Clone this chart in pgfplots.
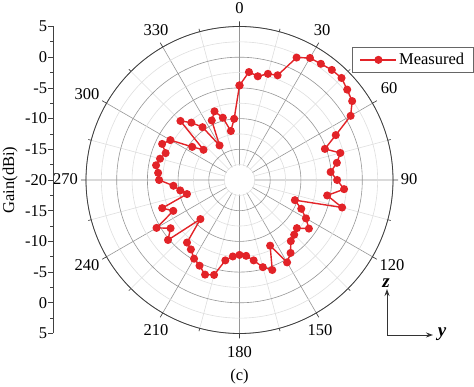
\documentclass[border=0pt]{standalone}
\usepackage{fontspec}
\setmainfont{Liberation Serif}
\usepackage{pgfplots}
\usepgfplotslibrary{polar}
\usetikzlibrary{arrows.meta}
\pgfplotsset{compat=1.18}
\usepackage{pgfplotstable}
\definecolor{meas}{RGB}{226,35,40}
\definecolor{majg}{RGB}{150,150,150}
\definecolor{ming}{RGB}{222,222,222}
\pgfplotstableread{
a g
0 -4.6
5 -2.35
10 -2.85
15 -2.1
20 -1.85
25 2.0
30 2.95
35 3.1
40 3.4
45 3.5
50 2.9
55 2.4
60 0.9
65 -2.7
70 -5.2
75 -3.0
80 -3.9
85 -5.1
90 -4.1
95 -2.9
100 -5.5
105 -2.7
110 -10.4
115 -8.9
120 -7.5
125 -6.2
130 -7.8
135 -7.4
140 -7.0
145 -5.5
150 -4.5
155 -8.2
160 -4.4
165 -5.3
170 -6.7
175 -7.6
180 -7.8
185 -7.5
190 -6.7
195 -4.0
200 -3.6
205 -4.6
210 -5.2
215 -6.2
220 -6.7
225 -11.0
230 -4.8
235 -6.3
240 -4.4
245 -8.1
250 -6.6
255 -11.15
260 -10.2
265 -9.2
270 -6.9
275 -6.7
280 -6.2
285 -6.6
290 -7.2
295 -6.1
300 -7.0
305 -10.6
310 -12.35
315 -6.4
320 -7.8
325 -9.5
330 -13.5
335 -9.3
340 -8.1
345 -9.5
350 -11.9
355 -10.0
360 -4.6
}\gaindata
\begin{document}
\begin{tikzpicture}[font=\fontsize{16.5}{19}\selectfont]
\useasboundingbox (0,0) rectangle (474pt,387pt);
\begin{axis}[
  scale only axis, width=10pt, height=307pt,
  at={(53.3pt,207pt)}, anchor=west,
  axis x line=none, axis y line*=left,
  xmin=0, xmax=1, ymin=-25, ymax=25,
  ytick={-25,-20,...,25},
  yticklabels={5,0,-5,-10,-15,-20,-15,-10,-5,0,5},
  minor y tick num=1, tick align=outside,
  major tick length=5pt, minor tick length=3pt,
  axis line style={black!75, line width=0.7pt},
  every tick/.style={black!75, line width=0.7pt},
  yticklabel style={font=\fontsize{16.5}{19}\selectfont, inner sep=1pt},
  ylabel={Gain(dBi)},
  ylabel style={font=\fontsize{16.5}{19}\selectfont, yshift=3pt},
]
\end{axis}
% radial coordinate = gain + 20 dBi (pole = -20 dBi)
\begin{polaraxis}[
  scale only axis, width=307pt, height=307pt,
  at={(239.5pt,207pt)}, anchor=center,
  xmin=0, xmax=360, ymin=0, ymax=25,
  xtick={0,30,...,330},
  xticklabels={},
  minor xtick={15,45,...,345},
  ytick={5,10,...,25},
  minor ytick={2.5,7.5,...,22.5},
  yticklabels={},
  y tick style={draw=none},
  grid=both,
  major grid style={majg, line width=0.6pt},
  minor grid style={ming, line width=0.6pt},
  axis line style={black!75, line width=0.8pt},
  y axis line style={draw=none},
  x tick style={black!75, line width=0.7pt},
  major tick length=5pt, minor tick length=3pt,
  clip=false,
  legend image code/.code={\draw[mark repeat=2, mark phase=2, #1]
    plot coordinates {(0pt,0pt) (18pt,0pt) (36pt,0pt)};},
  legend style={at={(1.2622,0.933)}, anchor=north east, draw=black!60,
    line width=0.6pt, font=\fontsize{16.5}{19}\selectfont,
    inner xsep=7pt, inner ysep=4pt},
  legend cell align=left,
]
\fill[white] (axis cs:0,0) circle[radius=14.6pt];
\addplot[meas, line width=1.4pt, mark=*, mark size=3.3pt,
  mark options={fill=meas, draw=meas}]
  table[x expr={90-\thisrow{a}}, y expr={\thisrow{g}+20}]{\gaindata};
\addlegendentry{Measured}
\end{polaraxis}
% angle labels (clockwise from top)
\begin{scope}[every node/.style={inner sep=0pt, anchor=center}]
\node at (239.5pt,379pt) {0};
\node at (322pt,357pt) {30};
\node at (389pt,299pt) {60};
\node at (409pt,208pt) {90};
\node at (392pt,122pt) {120};
\node at (320pt,57pt) {150};
\node at (239.5pt,35pt) {180};
\node at (156pt,57pt) {210};
\node at (87pt,122pt) {240};
\node at (65.5pt,208pt) {270};
\node at (87pt,293pt) {300};
\node at (156pt,357pt) {330};
\end{scope}
\node at (239.5pt,10pt) {(c)};
\draw[-{Stealth[length=7pt,width=5pt]}, black!80, line width=0.9pt] (387pt,52pt) -- (387pt,98pt);
\draw[-{Stealth[length=7pt,width=5pt]}, black!80, line width=0.9pt] (387pt,52pt) -- (433pt,52pt);
\node[font=\fontsize{19}{21}\selectfont, inner sep=0pt, anchor=base] at (386pt,99pt) {\textbf{\textit{z}}};
\node[font=\fontsize{19}{21}\selectfont, inner sep=0pt, anchor=base] at (442pt,50pt) {\textbf{\textit{y}}};
\end{tikzpicture}
\end{document}
